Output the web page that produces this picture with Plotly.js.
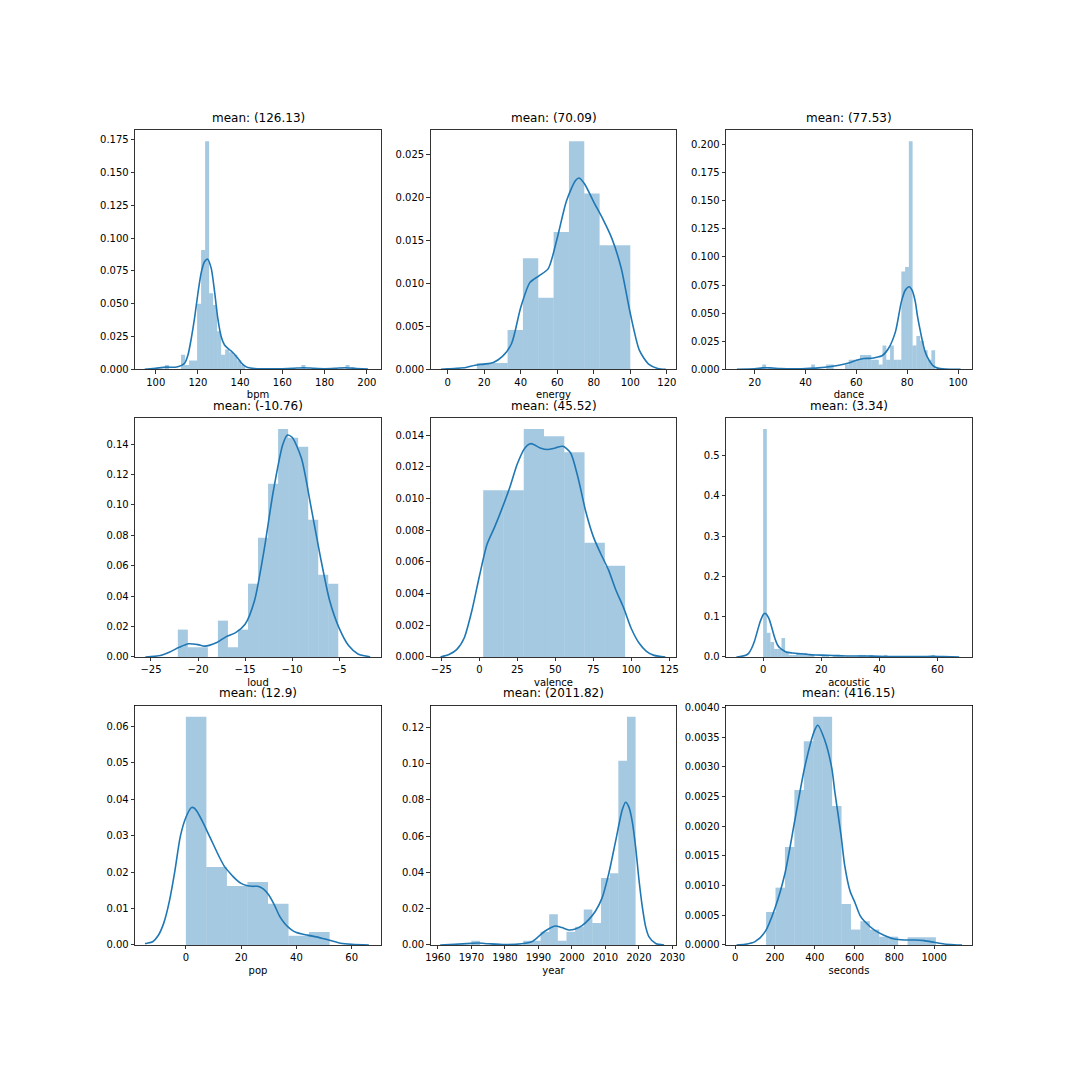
<!DOCTYPE html>
<html>
<head>
<meta charset="utf-8">
<script src="https://cdn.plot.ly/plotly-3.0.1.min.js"></script>
<style>html,body{margin:0;padding:0;background:#fff;}#chart{width:1080px;height:1080px;}</style>
</head>
<body>
<div id="chart"></div>
<script>
// ---------------- data ----------------
const panelNames = ['bpm', 'energy', 'dance', 'loud', 'valence', 'acoustic', 'pop', 'year', 'seconds'];
const panelMeans = ['126.13', '70.09', '77.53', '-10.76', '45.52', '3.34', '12.9', '2011.82', '416.15'];

// bpm
const bpmBinStart = 104.4, bpmBinWidth = 1.9;
const bpmDensity = [0.0033, 0, 0, 0, 0.011, 0.0033, 0.0066, 0.0066, 0.050, 0.091, 0.174, 0.058, 0.049, 0.029, 0.011, 0.015, 0.013, 0.011, 0.0066, 0.0033,
  0, 0, 0, 0, 0, 0, 0, 0, 0, 0, 0, 0, 0, 0, 0.0033, 0, 0, 0, 0, 0, 0, 0, 0, 0, 0, 0.0033];
const bpmKdeX = [94.8, 100, 105, 110, 113.7, 115.3, 116.9, 118.4, 120, 121.6, 123.1, 124.6, 126.3, 127.9, 129.4, 131, 132.6, 134.2, 135.7, 137.3, 138.9, 140.5, 142, 143.6, 146.8, 150, 155, 160, 165, 170, 175, 180, 185, 190, 195, 200.5];
const bpmKdeY = [0, 0.0008, 0.0016, 0.0017, 0.0046, 0.011, 0.024, 0.039, 0.058, 0.074, 0.082, 0.084, 0.077, 0.059, 0.039, 0.025, 0.0185, 0.016, 0.014, 0.0114, 0.0084, 0.005, 0.0028, 0.0013, 0.0005, 0.0003, 0.0003, 0.0004, 0.0007, 0.0012, 0.0007, 0.0004, 0.0007, 0.0012, 0.0006, 0.0001];

// energy
const energyBinStart = 16, energyBinWidth = 8.4;
const energyDensity = [0.00074, 0.00074, 0.00457, 0.01295, 0.00833, 0.0160, 0.02659, 0.0205, 0.01446, 0.01446];
const energyKdeX = [-3.6, 0, 5, 10, 15, 20, 25, 30, 35, 40, 45, 50, 55, 60, 65, 70, 72, 75, 80, 85, 90, 95, 100, 105, 110, 115, 119.4];
const energyKdeY = [0, 0.00004, 0.0001, 0.0002, 0.00047, 0.0006, 0.0008, 0.0015, 0.003, 0.0072, 0.0101, 0.0109, 0.0117, 0.0153, 0.0196, 0.022, 0.0223, 0.0216, 0.0195, 0.0175, 0.0152, 0.0118, 0.0065, 0.0022, 0.0006, 0.0001, 0];

// dance
const danceBinStart = 23, danceBinWidth = 1.4783;
const danceDensity = [0.0042, 0, 0, 0, 0, 0, 0, 0, 0, 0, 0, 0, 0, 0.0042, 0, 0, 0, 0.0042, 0.0042, 0, 0, 0, 0.0042,
  0.0085, 0.0085, 0.0085, 0.0127, 0.0127, 0.0127, 0.0085, 0.0085, 0.0042, 0.0212, 0.0085, 0.0212, 0.0085, 0.0085,
  0.087, 0.091, 0.203, 0.0212, 0.0296, 0.0254, 0.0169, 0.0085, 0.0169];
const danceKdeX = [13, 20, 23, 26, 30, 35, 40, 45, 50, 55, 58, 60, 63, 66, 68, 70.1, 72.7, 75.4, 77.7, 79.3, 80.8, 82, 83.2, 84, 85, 86, 87, 88, 90, 92, 95, 101];
const danceKdeY = [0, 0.0003, 0.0012, 0.0012, 0.0006, 0.0003, 0.0006, 0.0012, 0.0024, 0.0044, 0.0062, 0.008, 0.0095, 0.0098, 0.0107, 0.012, 0.0187, 0.0335, 0.060, 0.0705, 0.0735, 0.070, 0.060, 0.048, 0.036, 0.025, 0.016, 0.0105, 0.0035, 0.001, 0.0002, 0];

// loud
const loudBinStart = -22.15, loudBinWidth = 1.066;
const loudDensity = [0.018, 0.0064, 0.0064, 0, 0.0239, 0.0064, 0.018, 0.0482, 0.0784, 0.1139, 0.150, 0.1442, 0.1383, 0.0903, 0.0541, 0.0482];
const loudKdeX = [-25.6, -25, -24, -23, -22, -21, -20, -19.3, -18, -17, -16, -15, -14, -13, -12, -11, -10.5, -10, -9, -8, -7, -6, -5, -4, -3, -2, -1.7];
const loudKdeY = [0, 0.0002, 0.001, 0.0033, 0.0064, 0.0087, 0.0081, 0.0071, 0.0095, 0.0134, 0.016, 0.0215, 0.037, 0.0695, 0.109, 0.1396, 0.146, 0.1445, 0.1305, 0.099, 0.066, 0.0368, 0.019, 0.0075, 0.002, 0.0004, 0];

// valence
const valenceBinStart = 2.5, valenceBinWidth = 13.35;
const valenceDensity = [0.01053, 0.01053, 0.0144, 0.01394, 0.01293, 0.00721, 0.00576];
const valenceKdeX = [-25.6, -20, -15, -10, -5, 0, 5, 10, 15, 20, 25, 30, 34, 40, 45, 50, 55, 60, 65, 70, 75, 80, 85, 90, 95, 100, 105, 110, 115, 122.5];
const valenceKdeY = [0, 0.00015, 0.00046, 0.0012, 0.0029, 0.0051, 0.0071, 0.0082, 0.0094, 0.0107, 0.0122, 0.0132, 0.01347, 0.0132, 0.0131, 0.0132, 0.0133, 0.0129, 0.0113, 0.0092, 0.0076, 0.0065, 0.0055, 0.0042, 0.0031, 0.0018, 0.0009, 0.00036, 0.0001, 0];

// acoustic
const acousticBinStart = 0, acousticBinWidth = 1.26;
const acousticDensity = [0.566, 0.06, 0.037, 0.02, 0.02, 0.047, 0.01, 0.005, 0.005, 0.01, 0.01, 0.01, 0.005, 0.005,
  0, 0, 0.005, 0.005, 0, 0.005, 0.005, 0.005, 0, 0, 0, 0, 0.005, 0.005, 0, 0.005, 0, 0, 0, 0.005,
  0, 0, 0, 0, 0, 0, 0, 0, 0, 0, 0, 0, 0.005];
const acousticKdeX = [-9.2, -8, -6, -5, -4, -3, -2, -1, 0, 0.5, 1, 2, 3, 4, 5, 6, 7, 8, 10, 12, 14, 16, 18, 22, 26, 30, 35, 40, 45, 50, 55, 58, 62, 67.5];
const acousticKdeY = [0, 0.001, 0.004, 0.009, 0.021, 0.039, 0.064, 0.088, 0.105, 0.108, 0.107, 0.095, 0.072, 0.047, 0.029, 0.021, 0.016, 0.012, 0.0099, 0.0083, 0.0074, 0.0058, 0.005, 0.0041, 0.0033, 0.0025, 0.0025, 0.0017, 0.0008, 0.0008, 0.0008, 0.0017, 0.0008, 0];

// pop
const popBinStart = 0, popBinWidth = 7.4286;
const popDensity = [0.0626, 0.0214, 0.0162, 0.0173, 0.0113, 0.00256, 0.00357];
const popKdeX = [-14.8, -14, -12, -10, -8, -6, -4, -2, 0, 2, 3, 4, 6, 8, 10, 12, 14, 16, 18, 20, 22, 24, 26, 28, 30, 32, 34, 36, 38, 40, 44, 48, 50, 52, 56, 60, 66.2];
const popKdeY = [0.0004, 0.0005, 0.0009, 0.0026, 0.006, 0.0119, 0.0202, 0.0298, 0.0350, 0.0377, 0.0376, 0.0367, 0.0339, 0.0307, 0.0275, 0.0243, 0.0215, 0.0197, 0.0181, 0.0169, 0.0163, 0.0161, 0.0161, 0.0154, 0.0137, 0.011, 0.0078, 0.0057, 0.0043, 0.0034, 0.0027, 0.0021, 0.0017, 0.0013, 0.0005, 0.0002, 0];

// year
const yearBinStart = 1970, yearBinWidth = 2.579;
const yearDensity = [0.0024, 0, 0, 0, 0, 0, 0.0024, 0.0024, 0.0073, 0.017, 0.0024, 0.0073, 0.0100, 0.0196, 0.0121, 0.0369, 0.0396, 0.1016, 0.1258];
const yearKdeX = [1960.7, 1965, 1970, 1972, 1975, 1980, 1985, 1988, 1990, 1992, 1995, 1997, 1999, 2001, 2003, 2005, 2007, 2009, 2011, 2013, 2015, 2016, 2017, 2018, 2019, 2020, 2021, 2022, 2023, 2025, 2027.5];
const yearKdeY = [0, 0.0004, 0.0009, 0.0011, 0.0007, 0.0002, 0.0007, 0.0018, 0.0046, 0.0077, 0.0105, 0.0096, 0.0083, 0.0088, 0.0107, 0.0140, 0.0186, 0.0260, 0.0395, 0.057, 0.0744, 0.0787, 0.0760, 0.068, 0.054, 0.036, 0.021, 0.010, 0.0045, 0.0008, 0];

// seconds
const secondsBinStart = 155.4, secondsBinWidth = 47.4;
const secondsDensity = [0.000555, 0.000965, 0.00165, 0.00261, 0.00343, 0.00384, 0.00384, 0.00234, 0.00069, 0.00026, 0.0004, 0.00026, 0.00014, 0.00014, 0, 0.00013, 0.00013, 0.00013];
const secondsKdeX = [7, 50, 100, 150, 200, 250, 300, 350, 400, 415, 450, 486, 500, 532, 550, 578, 600, 627, 650, 700, 750, 800, 850, 900, 950, 1000, 1050, 1100, 1140];
const secondsKdeY = [0, 0.00001, 0.000056, 0.00022, 0.00062, 0.0012, 0.0021, 0.0030, 0.00362, 0.0037, 0.00345, 0.00297, 0.0026, 0.00185, 0.00135, 0.0009, 0.00073, 0.0005, 0.0004, 0.00025, 0.00016, 0.0001, 0.000084, 0.000084, 0.000073, 0.000045, 0.000017, 0.000005, 0];

// tick settings per panel
const xDticks = [20, 20, 20, 5, 25, 20, 20, 10, 200];
const yDticks = [0.025, 0.005, 0.025, 0.02, 0.002, 0.1, 0.01, 0.02, 0.0005];
const yTickFormats = ['.3f', '.3f', '.3f', '.2f', '.3f', '.1f', '.2f', '.2f', '.4f'];
const xRanges = [[90.2, 206.7], [-9.4, 125.3], [8.7, 105.5], [-26.7, -0.55], [-32.2, 129.8], [-12.8, 71.9], [-18.4, 70.6], [1957.8, 2031.2], [-46, 1190]];

// ---------------- build ----------------
const panelData = [
  [bpmBinStart, bpmBinWidth, bpmDensity, bpmKdeX, bpmKdeY],
  [energyBinStart, energyBinWidth, energyDensity, energyKdeX, energyKdeY],
  [danceBinStart, danceBinWidth, danceDensity, danceKdeX, danceKdeY],
  [loudBinStart, loudBinWidth, loudDensity, loudKdeX, loudKdeY],
  [valenceBinStart, valenceBinWidth, valenceDensity, valenceKdeX, valenceKdeY],
  [acousticBinStart, acousticBinWidth, acousticDensity, acousticKdeX, acousticKdeY],
  [popBinStart, popBinWidth, popDensity, popKdeX, popKdeY],
  [yearBinStart, yearBinWidth, yearDensity, yearKdeX, yearKdeY],
  [secondsBinStart, secondsBinWidth, secondsDensity, secondsKdeX, secondsKdeY]
];

const colDomains = [[0.125, 0.3528], [0.3986, 0.6264], [0.6722, 0.9]];
const rowDomains = [[0.6581, 0.8798], [0.3917, 0.6134], [0.125, 0.3468]];
const FONT = 'DejaVu Sans, Arial, sans-serif';
const BAR_COLOR = 'rgba(31,119,180,0.4)';
const LINE_COLOR = '#1f77b4';

const traces = [];
const layout = {
  width: 1080, height: 1080,
  margin: {l: 0, r: 0, t: 0, b: 0},
  paper_bgcolor: '#fff', plot_bgcolor: '#fff',
  showlegend: false,
  barmode: 'overlay',
  font: {family: FONT, size: 10, color: '#000'},
  annotations: []
};

panelData.forEach((p, i) => {
  const [start, w, dens, kx, ky] = p;
  const row = Math.floor(i / 3), col = i % 3;
  const sfx = i === 0 ? '' : String(i + 1);
  const xa = 'x' + sfx, ya = 'y' + sfx;
  const centers = dens.map((_, k) => start + w * (k + 0.5));
  traces.push({
    type: 'bar', x: centers, y: dens, width: dens.map(() => w),
    marker: {color: BAR_COLOR, line: {width: 0}},
    xaxis: xa, yaxis: ya, hoverinfo: 'skip'
  });
  traces.push({
    type: 'scatter', mode: 'lines', x: kx, y: ky,
    line: {color: LINE_COLOR, width: 1.6, shape: 'spline', smoothing: 0.7},
    xaxis: xa, yaxis: ya, hoverinfo: 'skip'
  });
  const common = {
    ticks: 'outside', ticklen: 3.5, tickwidth: 0.8, tickcolor: '#000',
    showline: true, linecolor: '#000', linewidth: 0.8, mirror: true,
    showgrid: false, zeroline: false, automargin: false,
    tickfont: {family: FONT, size: 10, color: '#000'}
  };
  layout['xaxis' + sfx] = Object.assign({}, common, {
    domain: colDomains[col], anchor: ya, range: xRanges[i],
    tick0: 0, dtick: xDticks[i],
    title: {text: panelNames[i], font: {family: FONT, size: 10, color: '#000'}, standoff: 4}
  });
  const ymax = Math.max.apply(null, dens) * 1.05;
  layout['yaxis' + sfx] = Object.assign({}, common, {
    domain: rowDomains[row], anchor: xa, range: [0, ymax],
    tick0: 0, dtick: yDticks[i], tickformat: yTickFormats[i]
  });
  layout.annotations.push({
    text: 'mean: (' + panelMeans[i] + ')',
    xref: 'paper', yref: 'paper',
    x: (colDomains[col][0] + colDomains[col][1]) / 2, y: rowDomains[row][1],
    xanchor: 'center', yanchor: 'bottom', yshift: 3, showarrow: false,
    font: {family: FONT, size: 12, color: '#000'}
  });
});

Plotly.newPlot('chart', traces, layout, {staticPlot: true, displayModeBar: false});
</script>
</body>
</html>
